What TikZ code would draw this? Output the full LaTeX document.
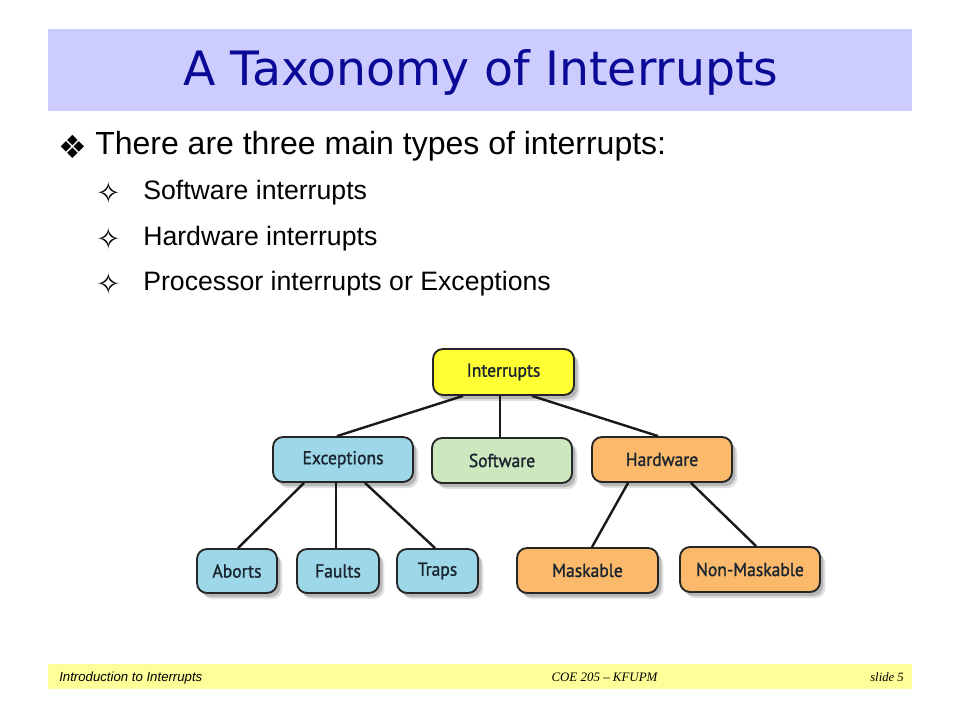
\documentclass[tikz,border=0pt]{standalone}
\usepackage{fontspec}
\setmainfont{Liberation Sans}
\newfontfamily\titlefont{DejaVu Sans}
\newfontfamily\symfont{DejaVu Sans}
\newfontfamily\boxfont[FakeBold=1.3,FakeStretch=0.94]{PT Sans}
\newfontfamily\footserif{Liberation Serif}
\usetikzlibrary{calc,shadows}
\definecolor{titleband}{HTML}{CCCCFF}
\definecolor{titleblue}{HTML}{0A0A96}
\definecolor{footband}{HTML}{FFFF99}
\definecolor{cyellow}{HTML}{FFFF33}
\definecolor{cblue}{HTML}{9ED8E8}
\definecolor{cgreen}{HTML}{CDE8BE}
\definecolor{corange}{HTML}{FBB96B}
\definecolor{cborder}{HTML}{262626}
\definecolor{ctext}{HTML}{1A2530}
\tikzset{
  taxbox/.style={rectangle, rounded corners=7.5pt, draw=cborder, line width=1.4pt,
    inner sep=0pt, font=\boxfont\fontsize{14}{16}\selectfont, text=ctext,
    general shadow={shadow xshift=2.5pt, shadow yshift=-3pt, fill=black, opacity=0.18},
    general shadow={shadow xshift=4pt, shadow yshift=-4.5pt, fill=black, opacity=0.12},
    minimum height=33.75pt},
  wide/.style={minimum width=105pt},
  narrow/.style={minimum width=60.75pt},
  link/.style={line width=1.8pt, draw=black!90},
  subitem/.style={anchor=base west, inner sep=0pt, font=\fontsize{20}{24}\selectfont},
  subsym/.style={anchor=center, inner sep=0pt, font=\symfont\fontsize{22}{24}\selectfont}
}
\begin{document}
\begin{tikzpicture}[x=0.75pt,y=-0.75pt]
\useasboundingbox (0,0) rectangle (960,720);
\fill[white] (0,0) rectangle (960,720);
% title band
\fill[titleband] (48,29) rectangle (912,111);
\node[text=titleblue, font=\titlefont\fontsize{35.5}{40}\selectfont] (title) at (481,72) {A Taxonomy of Interrupts};
% bullets
\node[anchor=center, font=\symfont\fontsize{24}{26}\selectfont, inner sep=0pt] (b0) at (73,147) {❖};
\node[anchor=base west, font=\fontsize{24}{28}\selectfont, inner sep=0pt] (t0) at (95,155) {There are three main types of interrupts:};
\node[subsym] (b1) at (109,193) {✧};
\node[subitem] (t1) at (143,200) {Software interrupts};
\node[subsym] (b2) at (109,239) {✧};
\node[subitem] (t2) at (143,246) {Hardware interrupts};
\node[subsym] (b3) at (109,284) {✧};
\node[subitem] (t3) at (143,291) {Processor interrupts or Exceptions};
% boxes
\node[taxbox, fill=cyellow, minimum height=34.5pt, minimum width=105.75pt] (int) at (503.5,372) {Interrupts};
\node[taxbox, wide, fill=cblue] (exc) at (343,459.5) {Exceptions};
\node[taxbox, wide, fill=cgreen] (soft) at (502,460.5) {Software};
\node[taxbox, wide, fill=corange] (hard) at (662,459.5) {Hardware};
\node[taxbox, minimum width=60pt, minimum height=33pt, fill=cblue] (abo) at (237,571) {Aborts};
\node[taxbox, minimum width=61.5pt, minimum height=33pt, fill=cblue] (fau) at (338,571) {Faults};
\node[taxbox, narrow, minimum height=33pt, fill=cblue] (tra) at (437.5,571) {Traps};
\node[taxbox, minimum width=105.75pt, fill=corange] (mask) at (587.5,570.5) {Maskable};
\node[taxbox, wide, fill=corange] (nonm) at (750,569.5) {Non-Maskable};
% connectors
\draw[link] ($(int.south)+(-40.5,0)$) -- ($(exc.north)+(-6,0)$);
\draw[link] ($(int.south)+(-3.5,0)$) -- ($(soft.north)+(-2,0)$);
\draw[link] ($(int.south)+(28.5,0)$) -- ($(hard.north)+(-4,0)$);
\draw[link] ($(exc.south)+(-39,0)$) -- ($(abo.north)+(1,0)$);
\draw[link] ($(exc.south)+(-7,0)$) -- ($(fau.north)+(-2,0)$);
\draw[link] ($(exc.south)+(22,0)$) -- ($(tra.north)+(-2.5,0)$);
\draw[link] ($(hard.south)+(-34,0)$) -- ($(mask.north)+(4.5,0)$);
\draw[link] ($(hard.south)+(29,0)$) -- ($(nonm.north)+(6,0)$);
% footer
\fill[footband] (48,664) rectangle (912,689);
\node[anchor=base west, inner sep=0pt, font=\itshape\fontsize{9.9}{11}\selectfont] (f1) at (59,681) {Introduction to Interrupts};
\node[anchor=base, inner sep=0pt, font=\footserif\itshape\fontsize{9.7}{11}\selectfont] (f2) at (604.5,681) {COE 205 – KFUPM};
\node[anchor=base east, inner sep=0pt, font=\footserif\itshape\fontsize{9.5}{11}\selectfont] (f3) at (904,681) {slide 5};
\end{tikzpicture}
\end{document}
